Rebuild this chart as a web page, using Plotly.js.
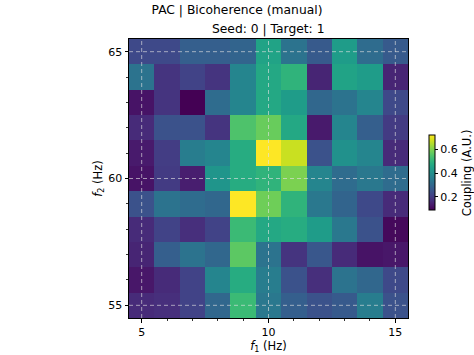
<!DOCTYPE html>
<html>
<head>
<meta charset="utf-8">
<script src="https://cdn.plot.ly/plotly-3.0.1.min.js"></script>
<style>html,body{margin:0;padding:0;background:#fff;}#chart{width:474px;height:355px;}</style>
</head>
<body>
<div id="chart"></div>
<script>
const f1 = [5, 6, 7, 8, 9, 10, 11, 12, 13, 14, 15];
const f2 = [55, 56, 57, 58, 59, 60, 61, 62, 63, 64, 65];
// rows ordered by f2 (55 -> 65), columns by f1 (5 -> 15)
const row55 = [0.161, 0.168, 0.212, 0.295, 0.517, 0.339, 0.276, 0.244, 0.263, 0.352, 0.244];
const row56 = [0.123, 0.161, 0.212, 0.371, 0.479, 0.352, 0.244, 0.168, 0.326, 0.295, 0.225];
const row57 = [0.149, 0.276, 0.326, 0.295, 0.561, 0.326, 0.180, 0.256, 0.161, 0.117, 0.123];
const row58 = [0.161, 0.212, 0.168, 0.212, 0.517, 0.466, 0.479, 0.434, 0.339, 0.244, 0.098];
const row59 = [0.244, 0.326, 0.307, 0.295, 0.720, 0.580, 0.498, 0.339, 0.288, 0.225, 0.161];
const row60 = [0.117, 0.193, 0.136, 0.415, 0.479, 0.498, 0.593, 0.371, 0.307, 0.339, 0.307];
const row61 = [0.129, 0.199, 0.352, 0.371, 0.479, 0.720, 0.669, 0.244, 0.403, 0.371, 0.161];
const row62 = [0.161, 0.244, 0.244, 0.180, 0.542, 0.574, 0.466, 0.129, 0.371, 0.276, 0.193];
const row63 = [0.117, 0.180, 0.085, 0.307, 0.371, 0.466, 0.434, 0.295, 0.326, 0.371, 0.225];
const row64 = [0.326, 0.180, 0.212, 0.180, 0.371, 0.466, 0.498, 0.149, 0.453, 0.434, 0.149];
const row65 = [0.225, 0.225, 0.276, 0.276, 0.288, 0.453, 0.326, 0.263, 0.434, 0.307, 0.263];
const xTicks = [5, 10, 15];
const yTicks = [55, 60, 65];
const cbTicks = [0.2, 0.4, 0.6];

const z = [row55, row56, row57, row58, row59, row60, row61, row62, row63, row64, row65];

const font = {family: 'DejaVu Sans', size: 11, color: '#000'};
const labelFont = {family: 'DejaVu Sans', size: 11.5, color: '#000'};
const titleFont = {family: 'DejaVu Sans', size: 12.3, color: '#000'};

const trace = {
  type: 'heatmap',
  x: f1, y: f2, z: z,
  colorscale: 'Viridis',
  zmin: 0.085, zmax: 0.72,
  hoverinfo: 'skip',
  colorbar: {
    x: 1.075, xanchor: 'left', xref: 'paper',
    y: 0.52, yanchor: 'middle',
    thickness: 6, thicknessmode: 'pixels',
    len: 75, lenmode: 'pixels',
    xpad: 0, ypad: 0,
    outlinewidth: 1, outlinecolor: '#000',
    tickmode: 'array', tickvals: cbTicks, ticktext: cbTicks.map(v => v.toFixed(1)),
    ticks: 'outside', ticklen: 3, tickwidth: 1, tickcolor: '#000',
    tickfont: font,
    title: {text: 'Coupling (A.U.)', side: 'right', font: labelFont}
  }
};

const gridShapes = [];
xTicks.forEach(v => gridShapes.push({type: 'line', xref: 'x', yref: 'paper', x0: v, x1: v, y0: 0, y1: 1,
  line: {color: 'rgba(225,225,225,0.8)', width: 0.8, dash: '4px,3px'}, layer: 'above'}));
yTicks.forEach(v => gridShapes.push({type: 'line', xref: 'paper', yref: 'y', x0: 0, x1: 1, y0: v, y1: v,
  line: {color: 'rgba(225,225,225,0.8)', width: 0.8, dash: '4px,3px'}, layer: 'above'}));

const axisCommon = {
  showgrid: false, zeroline: false,
  showline: true, mirror: true, linecolor: '#000', linewidth: 1,
  ticks: 'outside', ticklen: 3.5, tickwidth: 1, tickcolor: '#000',
  tickfont: font,
  minor: {dtick: 1, ticks: 'outside', ticklen: 2, tickwidth: 0.8, tickcolor: '#000', showgrid: false},
  fixedrange: true
};

const layout = {
  width: 474, height: 355,
  margin: {l: 129, r: 66, t: 39, b: 37, autoexpand: false},
  paper_bgcolor: '#fff', plot_bgcolor: '#fff',
  font: font,
  title: {text: 'PAC | Bicoherence (manual)', x: 0.5, xref: 'container', xanchor: 'center',
          y: 0.974, yref: 'container', yanchor: 'middle', pad: {t: 0, b: 0},
          font: titleFont},
  annotations: [{text: 'Seed: 0 | Target: 1', xref: 'paper', yref: 'paper', x: 0.5, y: 1,
    xanchor: 'center', yanchor: 'bottom', yshift: 0, showarrow: false,
    font: titleFont}],
  xaxis: Object.assign({}, axisCommon, {
    range: [4.5, 15.5], tickmode: 'array', tickvals: xTicks, ticktext: xTicks.map(String),
    title: {text: '<i>f</i><sub>1</sub> (Hz)', font: labelFont, standoff: 3}
  }),
  yaxis: Object.assign({}, axisCommon, {
    range: [54.5, 65.5], tickmode: 'array', tickvals: yTicks, ticktext: yTicks.map(String),
    title: {text: '<i>f</i><sub>2</sub> (Hz)', font: labelFont, standoff: 3}
  }),
  shapes: gridShapes
};

Plotly.newPlot('chart', [trace], layout, {displayModeBar: false, staticPlot: true});
</script>
</body>
</html>
